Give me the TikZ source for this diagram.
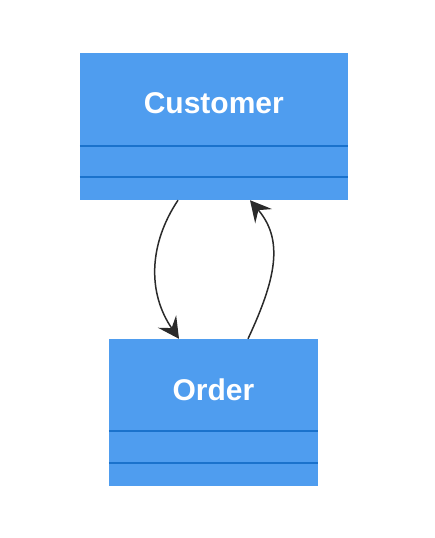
\documentclass[tikz,border=0pt]{standalone}
\usepackage{fontspec}
\setmainfont{Liberation Sans}
\usetikzlibrary{arrows.meta,calc}
\definecolor{boxfill}{HTML}{4F9DEF}
\definecolor{divline}{HTML}{1A72CC}
\definecolor{arrcol}{HTML}{2A2A2A}
\tikzset{
  classbox/.style={rectangle, fill=boxfill, draw=none, inner sep=0pt},
  classlbl/.style={text=white, font=\fontsize{30}{35}\selectfont\bfseries, inner sep=0pt},
  divider/.style={draw=divline, line width=1.5pt},
  assoc/.style={draw=arrcol, line width=1.5pt, -{Stealth[length=21pt,width=22pt,inset=8pt]}}
}
\begin{document}
\begin{tikzpicture}[x=1pt,y=-1pt]
\useasboundingbox (0,0) rectangle (434,538);
\node[classbox, minimum width=267.5pt, minimum height=147pt] (cust) at (213.8,126.5) {};
\node[classlbl] (custlbl) at (213.8,103) {Customer};
\draw[divider] ([yshift=54pt]cust.south west) -- ([yshift=54pt]cust.south east);
\draw[divider] ([yshift=23pt]cust.south west) -- ([yshift=23pt]cust.south east);
\node[classbox, minimum width=209pt, minimum height=147pt] (order) at (213.5,412.5) {};
\node[classlbl] (orderlbl) at (213.5,390) {Order};
\draw[divider] ([yshift=55pt]order.south west) -- ([yshift=55pt]order.south east);
\draw[divider] ([yshift=23pt]order.south west) -- ([yshift=23pt]order.south east);
\coordinate (a1) at ([xshift=-35.8pt]cust.south);
\coordinate (a2) at ([xshift=-34.5pt]order.north);
\coordinate (b1) at ([xshift=34.5pt]order.north);
\coordinate (b2) at ([xshift=36.2pt]cust.south);
\draw[assoc] (a1) .. controls ($(a1)+(-30,45)$) and ($(a2)+(-31,-45)$) .. (a2);
\draw[assoc] (b1) .. controls ($(b1)+(28,-60)$) and ($(b2)+(34,40)$) .. (b2);
\end{tikzpicture}
\end{document}
